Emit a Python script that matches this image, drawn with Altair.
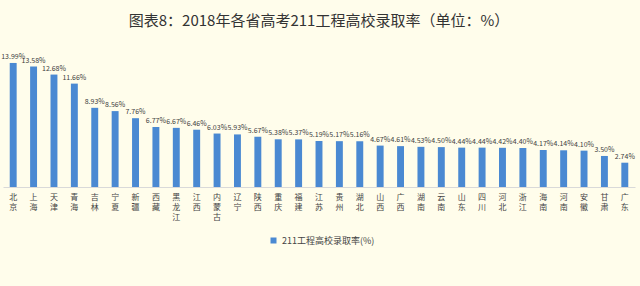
import altair as alt
import pandas as pd

provinces = ["北京", "上海", "天津", "青海", "吉林", "宁夏", "新疆", "西藏", "黑龙江", "江西",
             "内蒙古", "辽宁", "陕西", "重庆", "福建", "江苏", "贵州", "湖北", "山西", "广西",
             "湖南", "云南", "山东", "四川", "河北", "浙江", "海南", "河南", "安徽", "甘肃", "广东"]
rates = [13.99, 13.58, 12.68, 11.66, 8.93, 8.56, 7.76, 6.77, 6.67, 6.46,
         6.03, 5.93, 5.67, 5.38, 5.37, 5.19, 5.17, 5.16, 4.67, 4.61,
         4.53, 4.50, 4.44, 4.44, 4.42, 4.40, 4.17, 4.14, 4.10, 3.50, 2.74]
series_name = "211工程高校录取率(%)"
title_text = "图表8：2018年各省高考211工程高校录取率（单位：%）"

df = pd.DataFrame({"省份": provinces, "录取率": rates, "系列": series_name})

FONT = "Noto Sans CJK SC"
BAR = "#4A89D2"

base = alt.Chart(df).encode(
    x=alt.X("省份:N", sort=provinces,
            scale=alt.Scale(paddingInner=0.66, paddingOuter=0.33),
            axis=alt.Axis(title=None, labelAngle=0, labelExpr="split(datum.label, '')",
                          labelFontSize=8, labelLineHeight=10, labelColor="#444",
                          labelFont=FONT, ticks=False, domainColor="#d9d9d9",
                          labelPadding=6, labelBaseline="top")),
    y=alt.Y("录取率:Q", scale=alt.Scale(domain=[0, 15], nice=False),
            axis=None),
)

bars = base.mark_bar(color=BAR).encode(
    color=alt.Color("系列:N", scale=alt.Scale(range=[BAR]),
                    legend=alt.Legend(title=None, orient="none", legendX=266, legendY=182,
                                      symbolType="square", symbolSize=36,
                                      labelFontSize=9, labelColor="#444", labelFont=FONT))
)

labels = base.transform_calculate(
    lbl="format(datum['录取率'], '.2f') + '%'"
).mark_text(dy=-6, fontSize=7, color="#404040", font=FONT).encode(
    text="lbl:N"
)

chart = alt.layer(bars, labels).properties(
    width=632, height=133,
    padding={"left": 3, "top": 54, "right": 5, "bottom": 99},
    autosize=alt.AutoSizeParams(type="none"),
    background="#FFFDEB",
    title=alt.TitleParams(title_text, fontSize=15, font=FONT, color="#333",
                          fontWeight="normal", anchor="middle", offset=24),
).configure_view(stroke=None)

chart.save("out.html", embed_options={"renderer": "svg", "actions": False})
